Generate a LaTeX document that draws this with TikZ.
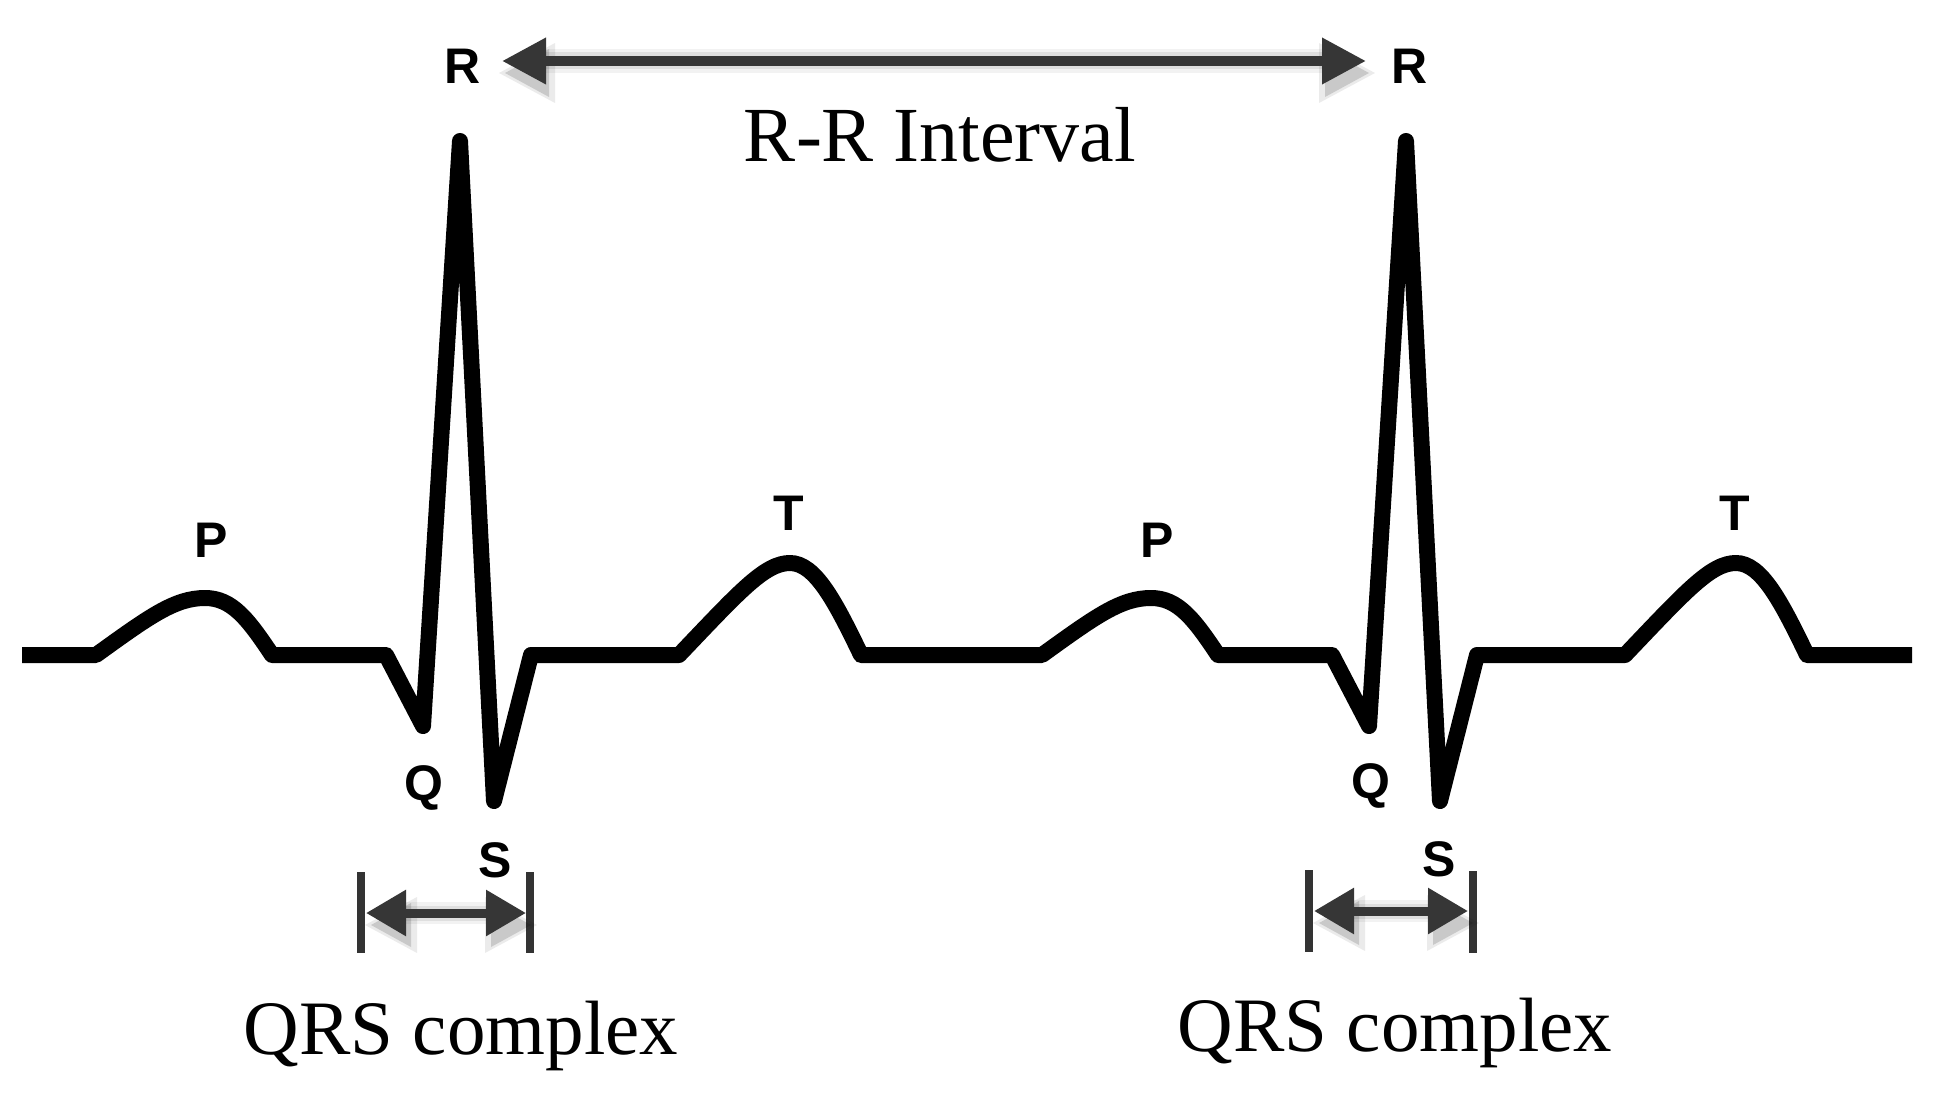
\documentclass[tikz,border=0pt]{standalone}
\usepackage{fontspec}
\setmainfont{Liberation Serif}
\setsansfont{Liberation Sans}
\usetikzlibrary{arrows.meta,calc}
\definecolor{arrowgray}{HTML}{363636}
\definecolor{bargray}{HTML}{333333}
\tikzset{
  wave/.style={line width=16pt, line join=round, line cap=butt, draw=black},
  peaklabel/.style={font=\sffamily\bfseries\fontsize{50}{60}\selectfont, inner sep=0pt, anchor=base},
  caption/.style={font=\fontsize{78}{90}\selectfont, inner sep=0pt, anchor=base},
  bigarrow/.style={line width=10pt, draw=arrowgray, {Triangle[length=44pt,width=44pt]}-{Triangle[length=44pt,width=44pt]}},
  smallarrow/.style={line width=9pt, draw=arrowgray, {Triangle[length=40pt,width=44pt]}-{Triangle[length=40pt,width=44pt]}},
  shadowline/.style={draw=black, opacity=#1},
  bar/.style={line width=8pt, draw=bargray, line cap=butt}
}
\begin{document}
\begin{tikzpicture}[x=1pt,y=-1pt]
\useasboundingbox[fill=white] (0,0) rectangle (1936,1113);

% ECG waveform
\draw[wave] (22,655) -- (96,655)
  .. controls (150,616) and (175,598) .. (205,598)
  .. controls (232,598) and (248,619) .. (272,655)
  -- (386,655) -- (423,726) -- (460,141) -- (494,801) -- (531,655)
  -- (679,655) .. controls (740,591) and (765,563) .. (790,563)
  .. controls (815,563) and (835,601) .. (861,655)
  -- (1042,655) .. controls (1096,616) and (1121,598) .. (1151,598)
  .. controls (1178,598) and (1194,619) .. (1218,655)
  -- (1332,655) -- (1369,726) -- (1406,141) -- (1440,801) -- (1477,655)
  -- (1625,655) .. controls (1686,591) and (1711,563) .. (1736,563)
  .. controls (1761,563) and (1781,601) .. (1807,655)
  -- (1912,655);

% peak labels
\node[peaklabel] (R1) at (463,84) {R};
\node[peaklabel] (R2) at (1410,84) {R};
\node[peaklabel] (P1) at (211,557) {P};
\node[peaklabel] (P2) at (1157,557) {P};
\node[peaklabel] (T1) at (789,530) {T};
\node[peaklabel] (T2) at (1735,530) {T};
\node[peaklabel] (Q1) at (424,800) {Q};
\node[peaklabel] (Q2) at (1371,798) {Q};
\node[peaklabel] (S1) at (495,877) {S};
\node[peaklabel] (S2) at (1439,876) {S};

% R-R interval arrow
\coordinate (rrL) at (502,61);
\coordinate (rrR) at (1366,61);
\begin{scope}[shift={(3,12)}]
  \foreach \w/\o in {24/0.05,17/0.08,10/0.10}
    \draw[shadowline=\o, line width=\w pt] ($(rrL)+(34,0)$) -- ($(rrR)+(-34,0)$);
  \foreach \s/\o in {6/0.08,0/0.14}{
    \fill[black, opacity=\o] (546+\s,37-\s) -- (546+\s,85+\s) -- (502-\s,61) -- cycle;
    \fill[black, opacity=\o] (1322-\s,37-\s) -- (1322-\s,85+\s) -- (1366+\s,61) -- cycle;
  }
\end{scope}
\draw[bigarrow] (rrL) -- (rrR);
\node[caption] (rrtext) at (940,161) {R-R Interval};

% QRS complex 1
\coordinate (q1a) at (361,872);
\coordinate (q1b) at (361,953);
\coordinate (q1c) at (530,872);
\coordinate (q1d) at (530,953);
\coordinate (q1L) at (366,913);
\coordinate (q1R) at (526,913);
\draw[bar] (q1a) -- (q1b);
\draw[bar] (q1c) -- (q1d);
\begin{scope}[shift={(5,12)}]
  \foreach \w/\o in {22/0.05,15/0.08,9/0.10}
    \draw[shadowline=\o, line width=\w pt] ($(q1L)+(30,0)$) -- ($(q1R)+(-30,0)$);
  \foreach \s/\o in {6/0.08,0/0.14}{
    \fill[black, opacity=\o] (406+\s,891-\s) -- (406+\s,935+\s) -- (366-\s,913) -- cycle;
    \fill[black, opacity=\o] (486-\s,891-\s) -- (486-\s,935+\s) -- (526+\s,913) -- cycle;
  }
\end{scope}
\draw[smallarrow] (q1L) -- (q1R);
\node[caption, font=\fontsize{77}{90}\selectfont] (qrs1) at (461,1054) {QRS complex};

% QRS complex 2
\coordinate (q2a) at (1309,870);
\coordinate (q2b) at (1309,952);
\coordinate (q2c) at (1473,871);
\coordinate (q2d) at (1473,953);
\coordinate (q2L) at (1314,911);
\coordinate (q2R) at (1468,911);
\draw[bar] (q2a) -- (q2b);
\draw[bar] (q2c) -- (q2d);
\begin{scope}[shift={(5,12)}]
  \foreach \w/\o in {22/0.05,15/0.08,9/0.10}
    \draw[shadowline=\o, line width=\w pt] ($(q2L)+(30,0)$) -- ($(q2R)+(-30,0)$);
  \foreach \s/\o in {6/0.08,0/0.14}{
    \fill[black, opacity=\o] (1354+\s,889-\s) -- (1354+\s,933+\s) -- (1314-\s,911) -- cycle;
    \fill[black, opacity=\o] (1428-\s,889-\s) -- (1428-\s,933+\s) -- (1468+\s,911) -- cycle;
  }
\end{scope}
\draw[smallarrow] (q2L) -- (q2R);
\node[caption, font=\fontsize{77}{90}\selectfont] (qrs2) at (1395,1051) {QRS complex};
\end{tikzpicture}
\end{document}
